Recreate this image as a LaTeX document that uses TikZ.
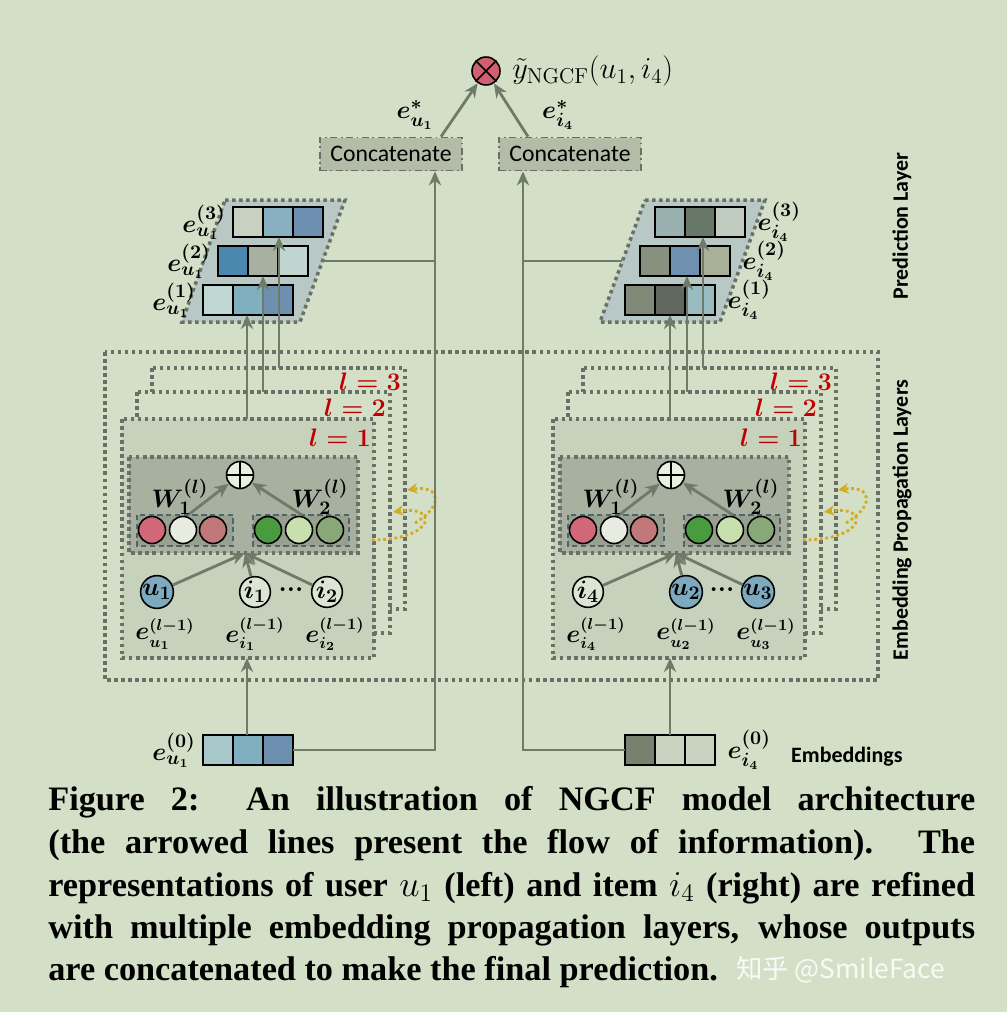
\documentclass[tikz,border=0pt]{standalone}
\usepackage{fontspec}
\usepackage{amsmath}
\usetikzlibrary{arrows.meta,positioning}
\setsansfont{Carlito}
\newfontfamily\capfont{Liberation Serif}
\newfontfamily\cjk{Noto Sans CJK SC}

\definecolor{bgC}{HTML}{D3E0C7}
\definecolor{lineC}{HTML}{6F7A68}
\definecolor{dotC}{HTML}{6A7068}
\definecolor{layerC}{HTML}{C6D2BC}
\definecolor{innerC}{HTML}{A8B0A0}
\definecolor{subC}{HTML}{98A090}
\definecolor{subEdge}{HTML}{50646E}
\definecolor{catC}{HTML}{B4BCA8}
\definecolor{paraC}{HTML}{B8C8C4}
\definecolor{redC}{HTML}{C00000}
\definecolor{predC}{HTML}{D06070}
\definecolor{uC}{HTML}{7EAAC0}
\definecolor{iC}{HTML}{DDE6D4}
\definecolor{yelC}{HTML}{D4AA20}
\definecolor{sumC}{HTML}{E8F0E0}
\definecolor{redA}{HTML}{D06878}
\definecolor{whiteA}{HTML}{E8ECE0}
\definecolor{redB}{HTML}{C07878}
\definecolor{greenA}{HTML}{4A9A40}
\definecolor{greenB}{HTML}{C8E0B0}
\definecolor{greenC}{HTML}{88A878}

\newcommand{\bmath}[1]{{\boldmath$#1$}}
% vector of three cells: name, x, y of first cell, three HTML colours
\newcommand{\embvec}[6]{%
  \definecolor{#1ca}{HTML}{#4}\definecolor{#1cb}{HTML}{#5}\definecolor{#1cc}{HTML}{#6}%
  \node[cell, fill=#1ca] (#1a) at (#2,#3) {};
  \node[cell, fill=#1cb, right=0pt of #1a] (#1b) {};
  \node[cell, fill=#1cc, right=0pt of #1b] (#1c) {};}
\newcommand{\capline}[3]{\node[anchor=base west, inner sep=0pt] (#1) at (48,#2)
  {\capfont\bfseries\fontsize{19.5}{22}\selectfont\makebox[18.54cm][s]{#3}};}

\tikzset{
  flow/.style={draw=lineC, line width=1.6pt, -{Stealth[length=8pt,width=7pt]}},
  link/.style={draw=lineC, line width=1.6pt},
  cell/.style={draw=black, line width=0.9pt, minimum width=0.6cm, minimum height=0.6cm, inner sep=0pt, outer sep=0pt},
  unit/.style={circle, draw=black, line width=0.9pt, minimum size=0.54cm, inner sep=0pt},
  layer/.style={draw=dotC, line width=2pt, dash pattern=on 2pt off 2pt},
  lab/.style={font=\fontsize{15}{17}\selectfont, inner sep=1pt},
  lnum/.style={text=redC, font=\fontsize{15}{18}\selectfont, inner sep=1pt},
  cat/.style={draw=dotC, line width=1pt, dash pattern=on 4pt off 2pt on 1pt off 2pt, fill=catC, font=\sffamily\fontsize{13.5}{16}\selectfont, minimum width=2.85cm, minimum height=0.66cm, inner sep=0pt},
  sub/.style={draw=subEdge, line width=0.9pt, dash pattern=on 3pt off 2pt, fill=subC},
  side/.style={font=\sffamily\bfseries\fontsize{12.5}{15}\selectfont, rotate=90},
  loop/.style={draw=yelC, line width=1.6pt, dash pattern=on 1.6pt off 1.6pt, -{Stealth[length=6pt,width=6pt]}},
}

\begin{document}
\begin{tikzpicture}[x=0.02cm, y=-0.02cm]
\fill[bgC] (0,0) rectangle (1007,1012);
\useasboundingbox (0,0) rectangle (1007,1012);

%% Prediction
\node[unit, fill=predC, minimum size=0.56cm] (pred) at (486,71) {};
\draw[line width=0.9pt] (pred.north west) -- (pred.south east) (pred.north east) -- (pred.south west);
\node[right=3pt of pred, font=\fontsize{17.5}{20}\selectfont] (score) {$\tilde{y}_{\mathrm{NGCF}}(u_1,i_4)$};
\node[cat] (catU) at (391,154) {Concatenate};
\node[cat] (catI) at (570,154) {Concatenate};
\draw[flow] ([xshift=1cm]catU.north) -- (pred);
\draw[flow] ([xshift=-0.84cm]catI.north) -- (pred);
\node[lab] (starU) at (415,115) {\bmath{e_{u_1}^{*}}};
\node[lab] (starI) at (558,115) {\bmath{e_{i_4}^{*}}};

%% Ausgaben der Schichten
\fill[paraC] (225,200) -- (345,200) -- (300,322) -- (182,322) -- cycle;
\draw[layer] (225,200) -- (345,200) -- (300,322) -- (182,322) -- cycle;
\fill[paraC] (645,200) -- (765,200) -- (720,322) -- (600,322) -- cycle;
\draw[layer] (645,200) -- (765,200) -- (720,322) -- (600,322) -- cycle;
\embvec{Lr3}{248}{222}{C8D0C0}{88B0C0}{6E90B0}
\embvec{Lr2}{233}{261}{4A88B0}{A8B0A0}{C0D4D0}
\embvec{Lr1}{218}{300}{C0D8D4}{80B0C0}{6E90B0}
\embvec{Rr3}{670}{222}{98B0B0}{687868}{C0CCC0}
\embvec{Rr2}{655}{261}{889080}{7090B0}{A8B098}
\embvec{Rr1}{640}{300}{808A78}{606860}{98BCC0}
\node[lab, left=3pt of Lr3a] (lo3) {\bmath{e_{u_1}^{(3)}}};
\node[lab, left=3pt of Lr2a] (lo2) {\bmath{e_{u_1}^{(2)}}};
\node[lab, left=3pt of Lr1a] (lo1) {\bmath{e_{u_1}^{(1)}}};
\node[lab, right=6pt of Rr3c] (ro3) {\bmath{e_{i_4}^{(3)}}};
\node[lab, right=6pt of Rr2c] (ro2) {\bmath{e_{i_4}^{(2)}}};
\node[lab, right=6pt of Rr1c] (ro1) {\bmath{e_{i_4}^{(1)}}};

%% Embedding Propagation Layers
\draw[layer] (105,352) rectangle (878,680);
\foreach \s/\dx/\ta/\fa/\tb/\fb/\tc/\fc in {L/0/u_1/uC/i_1/iC/i_2/iC, R/431/i_4/iC/u_2/uC/u_3/uC}{
\begin{scope}[shift={(\dx,0)}]
  \draw[layer, fill=bgC] (152,368) rectangle (405,609);
  \draw[layer, fill=bgC] (137,392) rectangle (390,633);
  \draw[layer, fill=layerC] (122,419) rectangle (374,658);
  \node[lnum] at (370,382) {\bmath{l=3}};
  \node[lnum] at (355,408) {\bmath{l=2}};
  \node[lnum] at (340,438) {\bmath{l=1}};
  \draw[layer, fill=innerC] (129,457) rectangle (358,553);
  \draw[sub] (137,515) rectangle (233,546);
  \draw[sub] (253,515) rectangle (349,546);
  \node[unit, fill=redA] (\s c1) at (152,530) {};
  \node[unit, fill=whiteA] (\s c2) at (183,530) {};
  \node[unit, fill=redB] (\s c3) at (213,530) {};
  \node[unit, fill=greenA] (\s c4) at (268,530) {};
  \node[unit, fill=greenB] (\s c5) at (299,530) {};
  \node[unit, fill=greenC] (\s c6) at (330,530) {};
  \node[unit, fill=sumC] (\s sum) at (240,475) {};
  \draw[line width=0.9pt] (\s sum.north) -- (\s sum.south) (\s sum.east) -- (\s sum.west);
  \coordinate (\s w1) at (188,515);
  \coordinate (\s w2) at (302,515);
  \draw[flow] (\s w1) -- (\s sum);
  \draw[flow] (\s w2) -- (\s sum);
  \node[lab] at (180,497) {\bmath{W_1^{(l)}}};
  \node[lab] at (320,497) {\bmath{W_2^{(l)}}};
  \coordinate (\s in) at (245,553);
  \node[unit, fill=\fa, minimum size=0.58cm, font=\fontsize{15}{17}\selectfont] (\s n1) at (157,592) {\bmath{\ta}};
  \node[unit, fill=\fb, minimum size=0.58cm, font=\fontsize{15}{17}\selectfont] (\s n2) at (255,592) {\bmath{\tb}};
  \node[unit, fill=\fc, minimum size=0.58cm, font=\fontsize{15}{17}\selectfont] (\s n3) at (327,592) {\bmath{\tc}};
  \node[lab] at (291,590) {\textbf{...}};
  \draw[flow] (\s n1) -- (\s in);
  \draw[flow] (\s n2) -- (\s in);
  \draw[flow] (\s n3) -- (\s in);
  \node[lab, font=\fontsize{13.5}{15}\selectfont] at (165,634) {\bmath{e_{\ta}^{(l-1)}}};
  \node[lab, font=\fontsize{13.5}{15}\selectfont] at (255,634) {\bmath{e_{\tb}^{(l-1)}}};
  \node[lab, font=\fontsize{13.5}{15}\selectfont] at (335,634) {\bmath{e_{\tc}^{(l-1)}}};
  \draw[loop] (372,540) .. controls (435,540) and (440,505) .. (393,512);
  \draw[loop] (415,523) .. controls (445,505) and (440,485) .. (407,490);
\end{scope}
}

%% Eingangsvektoren
\embvec{Le}{218}{750}{A8C8CC}{80B0C0}{6E90B0}
\embvec{Re}{640}{750}{788070}{C8D4C0}{C8D4C0}
\node[lab, left=3pt of Lea] (le0) {\bmath{e_{u_1}^{(0)}}};
\node[lab, right=6pt of Rec] (re0) {\bmath{e_{i_4}^{(0)}}};
\node[font=\sffamily\bfseries\fontsize{12.5}{15}\selectfont, anchor=west] (embtxt) at (785,757) {Embeddings};

%% Verbindungen
\coordinate (Ll1) at (247,419);
\coordinate (Ll2) at (263,392);
\coordinate (Ll3) at (279,368);
\coordinate (Rl1) at (670,419);
\coordinate (Rl2) at (687,392);
\coordinate (Rl3) at (703,368);
\draw[flow] (Ll1) -- (Ll1 |- Lr1a.south);
\draw[flow] (Ll2) -- (Ll2 |- Lr2a.south);
\draw[flow] (Ll3) -- (Ll3 |- Lr3a.south);
\draw[flow] (Rl1) -- (Rl1 |- Rr1a.south);
\draw[flow] (Rl2) -- (Rl2 |- Rr2a.south);
\draw[flow] (Rl3) -- (Rl3 |- Rr3a.south);
\draw[flow] (Leb.north -| Ll1) -- (Ll1 |- 0,658);
\draw[flow] (Reb.north -| Rl1) -- (Rl1 |- 0,658);
\coordinate (jU) at (435,0);
\coordinate (jI) at (523,0);
\draw[flow] (Lec.east) -| (jU |- catU.south);
\draw[flow] (Rea.west) -| (jI |- catI.south);
\draw[link] (322,261) -- (jU |- 0,261);
\draw[link] (622,261) -- (jI |- 0,261);

\node[side] (predtxt) at (902,226) {Prediction Layer};
\node[side] (proptxt) at (902,520) {Embedding Propagation Layers};

%% Bildunterschrift
\capline{cap1}{810}{Figure 2: An illustration of NGCF model architecture}
\capline{cap2}{853}{(the arrowed lines present the flow of information). The}
\capline{cap3}{896}{representations of user $u_1$ (left) and item $i_4$ (right) are refined}
\capline{cap4}{938}{with multiple embedding propagation layers, whose outputs}
\node[anchor=base west, inner sep=0pt, font=\capfont\bfseries\fontsize{19.5}{22}\selectfont] (cap5) at (48,980) {are concatenated to make the final prediction.};
\node[anchor=west, text=white, opacity=0.85, font=\cjk\fontsize{15}{18}\selectfont] (mark) at (730,970) {知乎 @SmileFace};
\end{tikzpicture}
\end{document}
